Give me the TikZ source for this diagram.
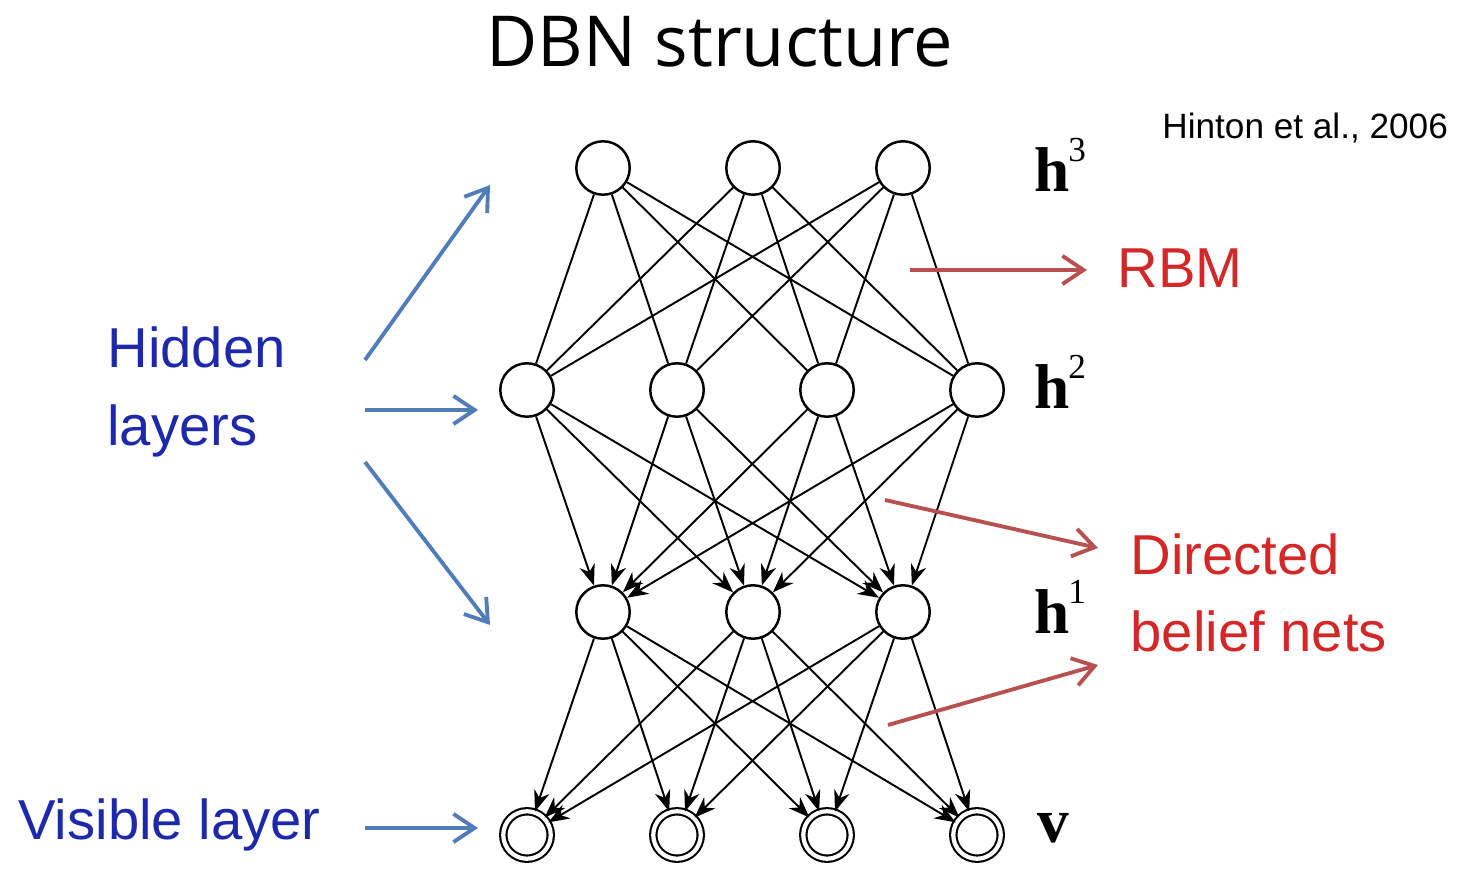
\documentclass[tikz,border=0pt]{standalone}
\usepackage{fontspec}
\setmainfont{Liberation Sans}
\newfontfamily\titlefont{Open Sans}
\newfontfamily\serifb{Liberation Serif}
\usetikzlibrary{arrows.meta}
\definecolor{lblue}{RGB}{80,125,185}
\definecolor{dblue}{RGB}{30,40,170}
\definecolor{lred}{RGB}{185,80,80}
\definecolor{dred}{RGB}{210,40,40}
\begin{document}
\begin{tikzpicture}[x=0.01cm,y=-0.01cm,
  unit/.style={circle,draw,line width=0.7pt,minimum size=15.2pt,inner sep=0pt,fill=white},
  vis/.style={circle,draw,double,double distance=1.2pt,line width=0.6pt,minimum size=13.5pt,inner sep=0pt,fill=white},
  conn/.style={line width=0.55pt},
  dir/.style={line width=0.55pt,-{Stealth[length=6pt,width=4.5pt]}},
  barrow/.style={lblue,line width=1.1pt,-{Straight Barb[length=6pt,width=8pt]}},
  rarrow/.style={lred,line width=1.1pt,-{Straight Barb[length=6pt,width=8pt]}},
  hl/.style={font=\serifb\bfseries\fontsize{18}{18}\selectfont,anchor=west},
  sup/.style={font=\serifb\fontsize{10}{10}\selectfont,anchor=west}]
\useasboundingbox (0,0) rectangle (1474,880);
\node[font=\titlefont\fontsize{20}{20}\selectfont] (title) at (720,42) {DBN structure};
\node[font=\fontsize{10}{10}\selectfont,anchor=west] (cite) at (1150,128) {Hinton et al., 2006};
\foreach \i/\x in {1/603,2/753,3/903}{
  \node[unit] (a\i) at (\x,168) {};
  \node[unit] (c\i) at (\x,612) {};}
\foreach \i/\x in {1/527,2/677,3/827,4/977}{
  \node[unit] (b\i) at (\x,390) {};
  \node[vis] (v\i) at (\x,835) {};}
\foreach \i in {1,2,3}{\foreach \j in {1,2,3,4}{
  \draw[conn] (a\i) -- (b\j);
  \draw[dir] (b\j) -- (c\i);
  \draw[dir] (c\i) -- (v\j);}}
\node[hl] (h3) at (1022,170) {h};
\node[sup] (s3) at (1056,150) {3};
\node[hl] (h2) at (1022,387) {h};
\node[sup] (s2) at (1056,367) {2};
\node[hl] (h1) at (1022,612) {h};
\node[sup] (s1x) at (1056,592) {1};
\node[hl] (hv) at (1025,828) {v};
\node[dblue,font=\fontsize{16}{22}\selectfont,align=left,anchor=west] (hid) at (95,392) {Hidden\\layers};
\node[dblue,font=\fontsize{16}{16}\selectfont,anchor=west] (visl) at (6,825) {Visible layer};
\coordinate (s1) at (365,360); \coordinate (e1) at (490,185);
\coordinate (s2) at (365,410); \coordinate (e2) at (478,410);
\coordinate (s3) at (365,462); \coordinate (e3) at (490,625);
\coordinate (s4) at (365,828); \coordinate (e4) at (478,828);
\draw[barrow] (s1) -- (e1);
\draw[barrow] (s2) -- (e2);
\draw[barrow] (s3) -- (e3);
\draw[barrow] (s4) -- (e4);
\node[dred,font=\fontsize{16}{16}\selectfont,anchor=west] (rbm) at (1105,268) {RBM};
\node[dred,font=\fontsize{16}{22}\selectfont,align=left,anchor=west] (dbn) at (1118,593) {Directed\\belief nets};
\coordinate (r1) at (910,270); \coordinate (q1) at (1087,270);
\coordinate (r2) at (885,500); \coordinate (q2) at (1098,548);
\coordinate (r3) at (888,725); \coordinate (q3) at (1098,665);
\draw[rarrow] (r1) -- (q1);
\draw[rarrow] (r2) -- (q2);
\draw[rarrow] (r3) -- (q3);
\end{tikzpicture}
\end{document}
